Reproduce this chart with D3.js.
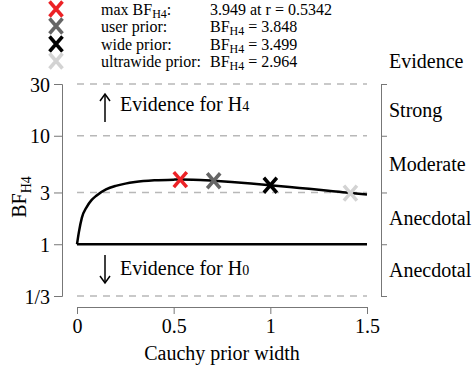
<!DOCTYPE html>
<html>
<head>
<meta charset="utf-8">
<script src="https://cdn.jsdelivr.net/npm/d3@7"></script>
<style>
  body { margin: 0; background: #fff; }
  svg text { font-family: "Liberation Serif", "DejaVu Serif", serif; fill: #000; }
</style>
</head>
<body>
<div id="chart"></div>
<script>
// robustness curve: BF as a function of Cauchy prior width
var priorWidth = [0, 0.01, 0.025, 0.05, 0.075, 0.1, 0.15, 0.2, 0.25, 0.3, 0.4, 0.5, 0.5342, 0.6, 0.7071, 0.8, 0.9, 1, 1.1, 1.2, 1.3, 1.4142, 1.5];
var bfValues   = [1, 1.3, 1.75, 2.2, 2.55, 2.8, 3.2, 3.45, 3.62, 3.74, 3.88, 3.94, 3.949, 3.935, 3.848, 3.75, 3.63, 3.499, 3.37, 3.24, 3.12, 2.964, 2.87];

// highlighted priors
var markerWidth = [0.5342, 0.7071, 1, 1.4142];
var markerBF    = [3.949, 3.848, 3.499, 2.964];
var markerColor = ["#ec2226", "#666666", "#000000", "#d3d3d3"];
var legendLabel = ["max BF", "user prior:", "wide prior:", "ultrawide prior:"];
var legendValue = ["3.949 at r = 0.5342", "3.848", "3.499", "2.964"];

var yTicks = [1/3, 1, 3, 10, 30];
var yTickLabels = ["1/3", "1", "3", "10", "30"];
var xTicks = [0, 0.5, 1, 1.5];
var dashedAt = [1/3, 3, 10, 30];
var evidenceLabels = ["Strong", "Moderate", "Anecdotal", "Anecdotal"];
var evidenceBands = [[10, 30], [3, 10], [1, 3], [1/3, 1]];

var serif = "'Liberation Serif', 'DejaVu Serif', serif";
var svgWidth = 474, svgHeight = 367;

var svg = d3.select("#chart").append("svg")
  .attr("width", svgWidth)
  .attr("height", svgHeight)
  .attr("font-family", serif);

var x = d3.scaleLinear().domain([0, 1.5]).range([77, 367]);
var y = d3.scaleLog().domain([1/3, 30]).range([296, 84]);

// dashed reference lines
svg.selectAll("line.ref")
  .data(dashedAt)
  .enter()
  .append("line")
  .attr("class", "ref")
  .attr("x1", x(0)).attr("x2", x(1.5))
  .attr("y1", d => y(d)).attr("y2", d => y(d))
  .attr("stroke", "#b8b8b8")
  .attr("stroke-width", 1.5)
  .attr("stroke-dasharray", "7,6");

// left axis
var leftAxis = d3.axisLeft(y)
  .tickValues(yTicks)
  .tickFormat((d, i) => yTickLabels[i])
  .tickSizeOuter(0)
  .tickSize(8)
  .tickPadding(4);
var gLeft = svg.append("g").attr("transform", "translate(62,0)").call(leftAxis);

// right axis (evidence categories)
var rightAxis = d3.axisRight(y)
  .tickValues(yTicks)
  .tickFormat("")
  .tickSizeOuter(0)
  .tickSize(6);
var gRight = svg.append("g").attr("transform", "translate(381,0)").call(rightAxis);

// bottom axis
var bottomAxis = d3.axisBottom(x)
  .tickValues(xTicks)
  .tickFormat(d3.format("~g"))
  .tickSizeOuter(0)
  .tickSize(7)
  .tickPadding(5);
var gBottom = svg.append("g").attr("transform", "translate(0,307)").call(bottomAxis);

[gLeft, gRight, gBottom].forEach(function(g) {
  g.attr("font-family", serif).attr("font-size", 20);
  g.selectAll("path.domain, .tick line").attr("stroke", "#777").attr("stroke-width", 1);
  g.selectAll(".tick text").attr("fill", "#000");
});
gLeft.selectAll(".tick text").attr("dy", "0.35em");
gBottom.selectAll(".tick text").attr("dy", "0.71em");

// horizontal line at BF = 1
svg.append("line")
  .attr("x1", x(0)).attr("x2", x(1.5))
  .attr("y1", y(1)).attr("y2", y(1))
  .attr("stroke", "#000")
  .attr("stroke-width", 2.5);

// BF curve
var curveData = priorWidth.map((r, i) => ({ r: r, bf: bfValues[i] }));
svg.append("path")
  .datum(curveData)
  .attr("fill", "none")
  .attr("stroke", "#000")
  .attr("stroke-width", 2.5)
  .attr("d", d3.line()
    .x(d => x(d.r))
    .y(d => y(d.bf))
    .curve(d3.curveMonotoneX));

// draw an X marker
function cross(g, cx, cy, color) {
  var hw = 6.5, hh = 7.5;
  g.append("path")
    .attr("d", `M${cx - hw},${cy - hh}L${cx + hw},${cy + hh}M${cx - hw},${cy + hh}L${cx + hw},${cy - hh}`)
    .attr("stroke", color)
    .attr("stroke-width", 3.5)
    .attr("fill", "none");
}

markerWidth.forEach(function(r, i) {
  cross(svg, x(r), y(markerBF[i]), markerColor[i]);
});

// legend
var legendY = [9, 26, 44, 61];
legendLabel.forEach(function(lab, i) {
  cross(svg, 56, legendY[i], markerColor[i]);
  var t = svg.append("text")
    .attr("x", 101).attr("y", legendY[i] + 6)
    .attr("font-size", 16);
  if (i === 0) {
    t.append("tspan").text("max BF");
    t.append("tspan").attr("dy", 3).attr("font-size", 12).text("H4");
    t.append("tspan").attr("dy", -3).text(":");
  } else {
    t.text(lab);
  }
  var v = svg.append("text")
    .attr("x", 210).attr("y", legendY[i] + 6)
    .attr("font-size", 16);
  if (i === 0) {
    v.text(legendValue[i]);
  } else {
    v.append("tspan").text("BF");
    v.append("tspan").attr("dy", 3).attr("font-size", 12).text("H4");
    v.append("tspan").attr("dy", -3).text(" = " + legendValue[i]);
  }
});

// right side evidence labels
svg.append("text")
  .attr("x", 389).attr("y", 68)
  .attr("font-size", 20)
  .text("Evidence");

svg.selectAll("text.ev")
  .data(evidenceBands)
  .enter()
  .append("text")
  .attr("class", "ev")
  .attr("x", 389)
  .attr("y", d => (y(d[0]) + y(d[1])) / 2 + 7)
  .attr("font-size", 20)
  .text((d, i) => evidenceLabels[i]);

// arrows
function arrow(x0, yFrom, yTo) {
  var dir = yTo < yFrom ? 1 : -1;
  svg.append("line")
    .attr("x1", x0).attr("x2", x0)
    .attr("y1", yFrom).attr("y2", yTo)
    .attr("stroke", "#000").attr("stroke-width", 1.5);
  svg.append("path")
    .attr("d", `M${x0 - 5},${yTo + dir * 7}L${x0},${yTo}L${x0 + 5},${yTo + dir * 7}`)
    .attr("stroke", "#000").attr("stroke-width", 1.5).attr("fill", "none");
}
arrow(105, 122, 94);
arrow(105, 255, 283);

var h4 = svg.append("text").attr("x", 120).attr("y", 111).attr("font-size", 20);
h4.append("tspan").text("Evidence for H");
h4.append("tspan").attr("font-size", 14).text("4");

var h0 = svg.append("text").attr("x", 120).attr("y", 275).attr("font-size", 20);
h0.append("tspan").text("Evidence for H");
h0.append("tspan").attr("font-size", 14).text("0");

// axis titles
svg.append("text")
  .attr("x", x(0.75)).attr("y", 360)
  .attr("text-anchor", "middle")
  .attr("font-size", 20)
  .text("Cauchy prior width");

var yl = svg.append("text")
  .attr("transform", "translate(26,197) rotate(-90)")
  .attr("text-anchor", "middle")
  .attr("font-size", 20);
yl.append("tspan").text("BF");
yl.append("tspan").attr("dy", 5).attr("font-size", 14).text("H4");
</script>
</body>
</html>
